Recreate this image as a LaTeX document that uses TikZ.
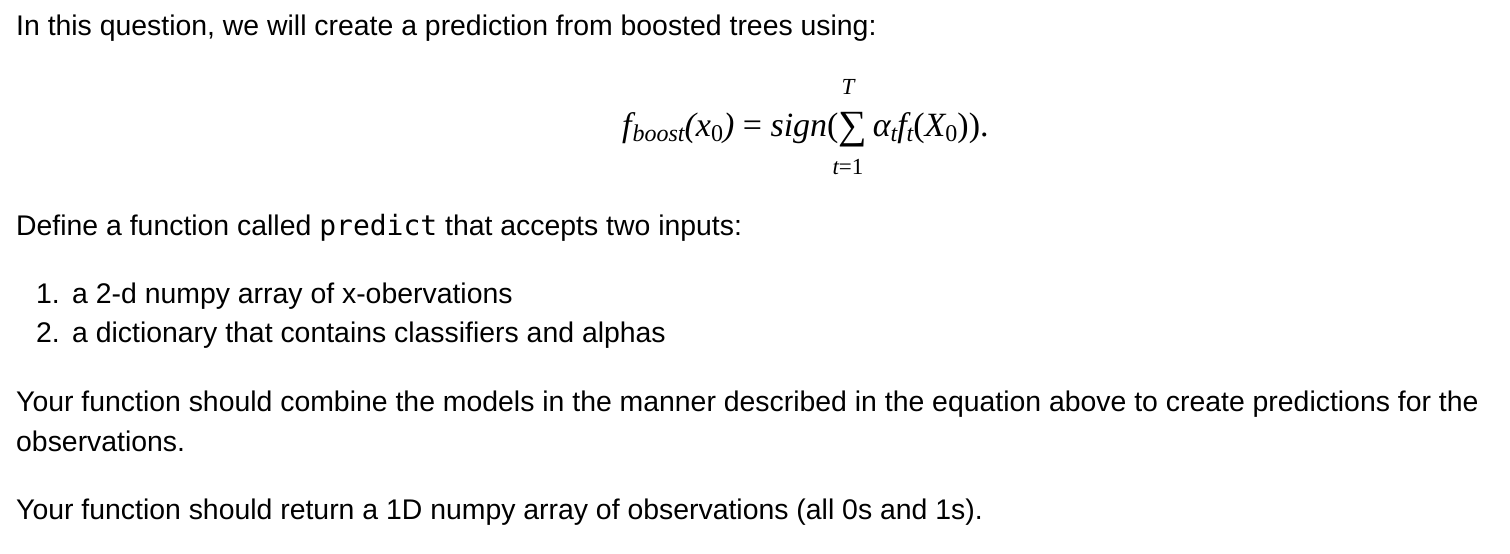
\documentclass[tikz,border=0pt]{standalone}
\usepackage{fontspec}
\setmainfont{Liberation Sans}
\newfontfamily\eqf{Liberation Serif}
\newfontfamily\monof{DejaVu Sans Mono}
\begin{document}
\begin{tikzpicture}[x=1pt,y=1pt,
  txt/.style={anchor=base west,inner sep=0pt,font=\fontsize{28.4}{32}\selectfont}]
\useasboundingbox (0,0) rectangle (1510,554);
\node[txt] (l1) at (16,554-36) {In this question, we will create a prediction from boosted trees using:};
\node[anchor=base west,inner sep=0pt,font=\eqf\fontsize{34}{38}\selectfont] (eq) at (622,554-137)
 {\itshape f\kern1pt\raisebox{-5pt}{\fontsize{24}{24}\selectfont boost}(x\raisebox{-5pt}{\fontsize{24}{24}\selectfont\upshape 0}\/)\upshape{} = \itshape sign\upshape(\raisebox{-2pt}{\fontsize{40}{40}\selectfont ∑}\,\itshape α\raisebox{-5pt}{\fontsize{24}{24}\selectfont t}f\raisebox{-5pt}{\fontsize{24}{24}\selectfont t}\upshape(\itshape X\raisebox{-5pt}{\fontsize{24}{24}\selectfont\upshape 0}\upshape)).};
\node[anchor=base,inner sep=0pt,font=\eqf\itshape\fontsize{23}{23}\selectfont] (T) at (848,554-95) {T};
\node[anchor=base,inner sep=0pt,font=\eqf\fontsize{23}{23}\selectfont] (t1) at (848,554-175) {\itshape t\upshape=1};
\node[txt] (l2) at (16,554-236) {Define a function called {\monof\fontsize{28}{30}\selectfont predict} that accepts two inputs:};
\node[txt] (n1) at (36,554-304) {1.};
\node[txt] (i1) at (72,554-304) {a 2-d numpy array of x-obervations};
\node[txt] (n2) at (36,554-343) {2.};
\node[txt] (i2) at (72,554-343) {a dictionary that contains classifiers and alphas};
\node[txt] (l3) at (16,554-412) {Your function should combine the models in the manner described in the equation above to create predictions for the};
\node[txt] (l4) at (16,554-452) {observations.};
\node[txt] (l5) at (16,554-520) {Your function should return a 1D numpy array of observations (all 0s and 1s).};
\end{tikzpicture}
\end{document}
